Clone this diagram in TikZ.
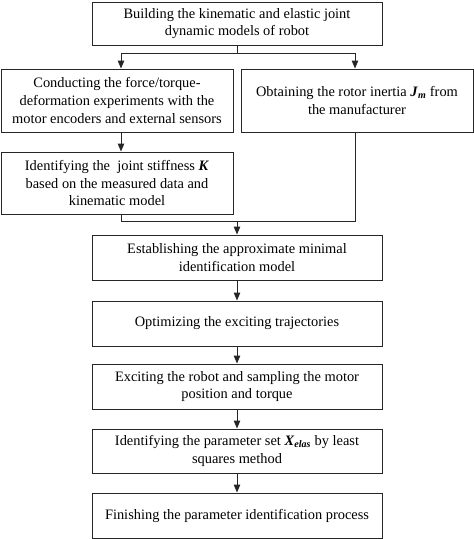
\documentclass[tikz,border=0pt]{standalone}
\usepackage{fontspec}
\setmainfont{Liberation Serif}
\usetikzlibrary{arrows.meta}
\begin{document}
\begin{tikzpicture}[x=1pt,y=-1pt,
  box/.style={draw=black!85, line width=1pt, align=center, inner sep=0pt,
    font=\fontsize{14.4}{17.7}\selectfont},
  arr/.style={draw=black!85, line width=1pt, -{Triangle[length=8pt,width=6.5pt]}},
  ln/.style={draw=black!85, line width=1pt}]
\useasboundingbox (0,0) rectangle (474,539);
\node[box, minimum width=290pt, minimum height=43pt] (b1) at (237,23.5)
  {Building the kinematic and elastic joint\\dynamic models of robot};
\node[box, minimum width=232pt, minimum height=63pt] (b2) at (117,100.5)
  {Conducting the force/torque-\\deformation experiments with the\\motor encoders and external sensors};
\node[box, minimum width=232pt, minimum height=63pt] (b3) at (357,100.5)
  {Obtaining the rotor inertia \textbf{\textit{J}}\textsubscript{\textbf{\textit{m}}} from\\the manufacturer};
\node[box, minimum width=232pt, minimum height=62pt] (b4) at (117,183)
  {Identifying the\ \ joint stiffness \textbf{\textit{K}}\\based on the measured data and\\kinematic model};
\node[box, minimum width=290pt, minimum height=45pt] (b5) at (237,257.5)
  {Establishing the approximate minimal\\identification model};
\node[box, minimum width=290pt, minimum height=45pt] (b6) at (237,323.5)
  {Optimizing the exciting trajectories};
\node[box, minimum width=290pt, minimum height=45pt] (b7) at (237,386.5)
  {Exciting the robot and sampling the motor\\position and torque};
\node[box, minimum width=290pt, minimum height=44pt] (b8) at (237,451)
  {Identifying the parameter set \textbf{\textit{X}}\textsubscript{\textbf{\textit{elas}}} by least\\squares method};
\node[box, minimum width=290pt, minimum height=45pt] (b9) at (237,515.5)
  {Finishing the parameter identification process};
\coordinate (jc) at (237,53);
\coordinate (jl) at (121,53);
\coordinate (jr) at (355,53);
\coordinate (ml) at (121,221);
\coordinate (mc) at (237,221);
\coordinate (mr) at (355,221);
\draw[ln] (b1.south) -- (jc);
\draw[ln] (jl) -- (jr);
\draw[arr] (jl) -- (jl |- b2.north);
\draw[arr] (jr) -- (jr |- b3.north);
\draw[arr] (jl |- b2.south) -- (jl |- b4.north);
\draw[ln] (jl |- b4.south) -- (ml) -- (mr) -- (jr |- b3.south);
\draw[arr] (mc) -- (b5.north);
\draw[arr] (b5) -- (b6);
\draw[arr] (b6) -- (b7);
\draw[arr] (b7) -- (b8);
\draw[arr] (b8) -- (b9);
\end{tikzpicture}
\end{document}
